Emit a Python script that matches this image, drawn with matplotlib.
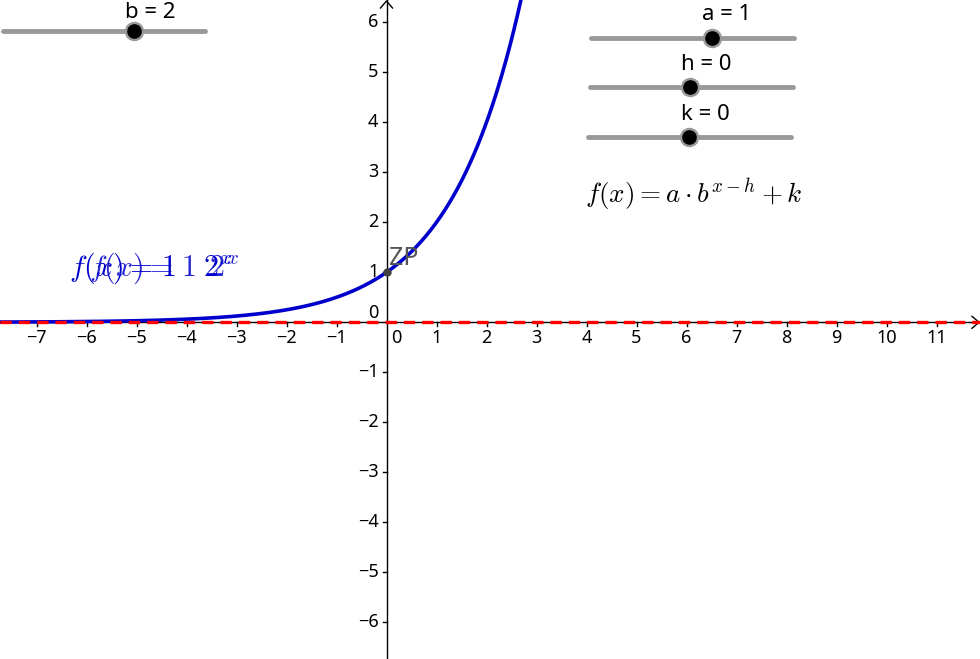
import numpy as np
import matplotlib
matplotlib.use("Agg")
import matplotlib.pyplot as plt

plt.rcParams['font.family'] = ['Noto Sans', 'DejaVu Sans']
plt.rcParams['mathtext.fontset'] = 'cm'

# parameters (slider values)
a_val = 1
b_val = 2
h_val = 0
k_val = 0
slider_names = ['b', 'a', 'h', 'k']
slider_values = [b_val, a_val, h_val, k_val]

x_ticks = [-7, -6, -5, -4, -3, -2, -1, 1, 2, 3, 4, 5, 6, 7, 8, 9, 10, 11]
y_ticks = [-6, -5, -4, -3, -2, -1, 1, 2, 3, 4, 5, 6]

W, H = 980, 659
X0, Y0, S = 386.5, 322.3, 50.0
xmin, xmax = -X0 / S, (W - X0) / S
ymin, ymax = -(H - Y0) / S, Y0 / S

fig = plt.figure(figsize=(W / 100, H / 100), dpi=100)
ax = fig.add_axes([0, 0, 1, 1])
ax.set_xlim(xmin, xmax)
ax.set_ylim(ymin, ymax)
for s in ax.spines.values():
    s.set_visible(False)
ax.set_xticks([])
ax.set_yticks([])

def P(px, py):
    return ((px - X0) / S, (Y0 - py) / S)

# axes lines
ax.plot([xmin, xmax - 0.01], [0, 0], color='black', lw=1, zorder=2)
ax.plot([0, 0], [ymin, ymax - 0.01], color='black', lw=1, zorder=2)
# arrow heads
ax.plot([xmax - 0.16, xmax - 0.02, xmax - 0.16], [0.12, 0, -0.12], color='black', lw=1, zorder=2)
ax.plot([-0.12, 0, 0.12], [ymax - 0.16, ymax - 0.02, ymax - 0.16], color='black', lw=1, zorder=2)

# ticks and labels
FS = 13
for t in x_ticks:
    ax.plot([t, t], [0, -0.08], color='black', lw=1)
    lab = str(t).replace('-', '\u2212')
    ax.text(t, -0.31, lab, ha='center', va='center', fontsize=FS, color='black')
for t in y_ticks:
    ax.plot([0, -0.08], [t, t], color='black', lw=1)
    lab = str(t).replace('-', '\u2212')
    ax.text(-0.16, t, lab, ha='right', va='center', fontsize=FS, color='black')
ax.text(0.2, -0.31, '0', ha='center', va='center', fontsize=FS)
ax.text(-0.16, 0.18, '0', ha='right', va='center', fontsize=FS)

# asymptote y = k
ax.plot([xmin, xmax], [k_val, k_val], color='#ff0000', lw=2.4,
        dashes=(3.4, 2.1), zorder=4)

# function curve
x = np.linspace(xmin, xmax, 800)
y = a_val * b_val ** (x - h_val) + k_val
ax.plot(x, y, color='#0000cc', lw=2.6, zorder=3, clip_on=True)

# point ZP
ax.plot([0], [a_val + k_val], 'o', color='#404040', ms=5, zorder=5)
ax.text(*P(389, 259), 'ZP', fontsize=18, color='#555555', ha='left', va='center')

# overlapping blue labels
ax.text(*P(69, 268), r'$f(x) = \,1\quad 2^x$', fontsize=21.5, color='#0000cc',
        ha='left', va='center')
ax.text(*P(89, 268), r'$f(x) = \,1\enspace 2^x$', fontsize=21.5, color='#0000cc',
        ha='left', va='center', alpha=0.85)

# sliders: (line x0, line x1, y, dot x, label x, label y)
slider_geom = [
    (3, 205, 31, 134, 150, 12),
    (591, 794, 38, 712, 727, 15),
    (590, 793, 87, 690, 706, 64),
    (588, 791, 137, 689, 705, 115),
]
for name, val, (lx0, lx1, ly, dx, tx, ty) in zip(slider_names, slider_values, slider_geom):
    p0 = P(lx0, ly); p1 = P(lx1, ly)
    ax.plot([p0[0], p1[0]], [p0[1], p1[1]], color='#999999', lw=3.5,
            solid_capstyle='round', zorder=6)
    d = P(dx, ly)
    ax.plot([d[0]], [d[1]], 'o', ms=13, color='#999999', zorder=7)
    ax.plot([d[0]], [d[1]], 'o', ms=9.5, color='black', zorder=8)
    ax.text(*P(tx, ty), f'{name} = {val}', fontsize=16, ha='center',
            va='center', color='black')

# general formula
ax.text(*P(585, 195), r'$f(x) = a \cdot b^{x-h} + k$', fontsize=19.5,
        ha='left', va='center', color='black')

fig.savefig('out.png', dpi=100)
